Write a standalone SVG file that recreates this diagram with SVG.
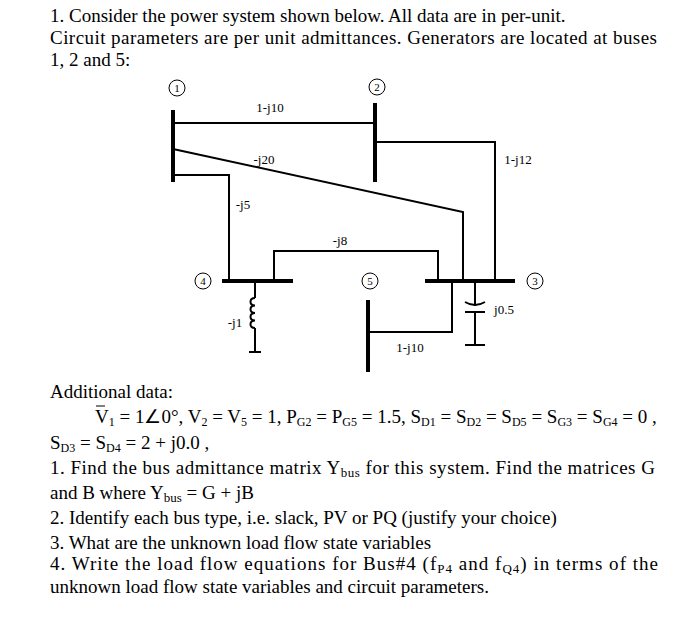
<svg xmlns="http://www.w3.org/2000/svg" width="700" height="633" viewBox="0 0 700 633">
<style>
text{font-family:"Liberation Serif","Times New Roman",serif;fill:#000}
.t{font-size:19px}
.l{font-size:13px}
.s{font-size:11px}
.w{stroke:#000;stroke-width:2;fill:none}
.b{stroke:#000;stroke-width:4;fill:none}
.c{fill:#fff;stroke:#000;stroke-width:1}
</style>
<rect width="700" height="633" fill="#fff"/>
<text class="t" x="50" y="22">1. Consider the power system shown below. All data are in per-unit.</text>
<text class="t" x="50" y="44" textLength="607" lengthAdjust="spacing">Circuit parameters are per unit admittances. Generators are located at buses</text>
<text class="t" x="50" y="66">1, 2 and 5:</text>
<g id="connectors">
<path class="w" d="M173,123H375"/>
<path class="w" d="M375,142H495V281"/>
<path class="w" d="M173,149L463,212V281"/>
<path class="w" d="M173,175H229V281"/>
<path class="w" d="M274,281V251H438V281"/>
<path class="w" d="M368,332H452V281"/>
<path class="w" d="M255,281V298"/>
<path class="w" stroke-width="1.2" d="M255,298c-6,0 -6,7.5 0,7.5c-6,0 -6,7.5 0,7.5c-6,0 -6,7.5 0,7.5c-6,0 -6,7.5 0,7.5"/>
<path class="w" d="M255,328V352"/>
<path class="w" stroke-width="1.2" d="M249,352H261"/>
<path class="w" d="M475,281V306"/>
<path class="w" d="M465,302Q475,308 485,302"/>
<path class="w" d="M465,312H485"/>
<path class="w" d="M475,312V345"/>
<path class="w" d="M465,345H485"/>
</g>
<g id="bus1"><path class="b" d="M173,110V182"/><circle class="c" cx="177" cy="88" r="8"/><text class="s" x="177" y="92" text-anchor="middle">1</text></g>
<g id="bus2"><path class="b" d="M375,103V182"/><circle class="c" cx="377" cy="87" r="8"/><text class="s" x="377" y="91" text-anchor="middle">2</text></g>
<g id="bus3"><path class="b" d="M425,281H515"/><circle class="c" cx="535" cy="281" r="8"/><text class="s" x="535" y="285" text-anchor="middle">3</text></g>
<g id="bus4"><path class="b" d="M222,281H293"/><circle class="c" cx="203" cy="281" r="8"/><text class="s" x="203" y="285" text-anchor="middle">4</text></g>
<g id="bus5"><path class="b" d="M368,300V372"/><circle class="c" cx="370" cy="281" r="8"/><text class="s" x="370" y="285" text-anchor="middle">5</text></g>
<g id="labels">
<text class="l" x="270" y="112" text-anchor="middle">1-j10</text>
<text class="l" x="264" y="164" text-anchor="middle">-j20</text>
<text class="l" x="518" y="164" text-anchor="middle">1-j12</text>
<text class="l" x="243" y="209" text-anchor="middle">-j5</text>
<text class="l" x="340" y="245" text-anchor="middle">-j8</text>
<text class="l" x="235" y="327" text-anchor="middle">-j1</text>
<text class="l" x="504" y="314" text-anchor="middle">j0.5</text>
<text class="l" x="410" y="352" text-anchor="middle">1-j10</text>
</g>
<text class="t" x="50" y="398">Additional data:</text>
<text class="t" x="95" y="423">V<tspan font-size="12" dy="3">1</tspan><tspan dy="-3"> = 1∠0°, V</tspan><tspan font-size="12" dy="3">2</tspan><tspan dy="-3"> = V</tspan><tspan font-size="12" dy="3">5</tspan><tspan dy="-3"> = 1, P</tspan><tspan font-size="12" dy="3">G2</tspan><tspan dy="-3"> = P</tspan><tspan font-size="12" dy="3">G5</tspan><tspan dy="-3"> = 1.5, S</tspan><tspan font-size="12" dy="3">D1</tspan><tspan dy="-3"> = S</tspan><tspan font-size="12" dy="3">D2</tspan><tspan dy="-3"> = S</tspan><tspan font-size="12" dy="3">D5</tspan><tspan dy="-3"> = S</tspan><tspan font-size="12" dy="3">G3</tspan><tspan dy="-3"> = S</tspan><tspan font-size="12" dy="3">G4</tspan><tspan dy="-3"> = 0 ,</tspan></text>
<path d="M96,406H105" stroke="#000" stroke-width="1"/>
<text class="t" x="50" y="449">S<tspan font-size="12" dy="3">D3</tspan><tspan dy="-3"> = S</tspan><tspan font-size="12" dy="3">D4</tspan><tspan dy="-3"> = 2 + j0.0 ,</tspan></text>
<text class="t" x="50" y="474" textLength="605" lengthAdjust="spacing">1. Find the bus admittance matrix Y<tspan font-size="13" dy="3">bus</tspan><tspan dy="-3"> for this system. Find the matrices G</tspan></text>
<text class="t" x="50" y="499">and B where Y<tspan font-size="13" dy="3">bus</tspan><tspan dy="-3"> = G + jB</tspan></text>
<text class="t" x="50" y="524">2. Identify each bus type, i.e. slack, PV or PQ (justify your choice)</text>
<text class="t" x="50" y="549">3. What are the unknown load flow state variables</text>
<text class="t" x="50" y="570" textLength="608" lengthAdjust="spacing">4. Write the load flow equations for Bus#4 (f<tspan font-size="13" dy="3">P4</tspan><tspan dy="-3"> and f</tspan><tspan font-size="13" dy="3">Q4</tspan><tspan dy="-3">) in terms of the</tspan></text>
<text class="t" x="50" y="593">unknown load flow state variables and circuit parameters.</text>
</svg>
